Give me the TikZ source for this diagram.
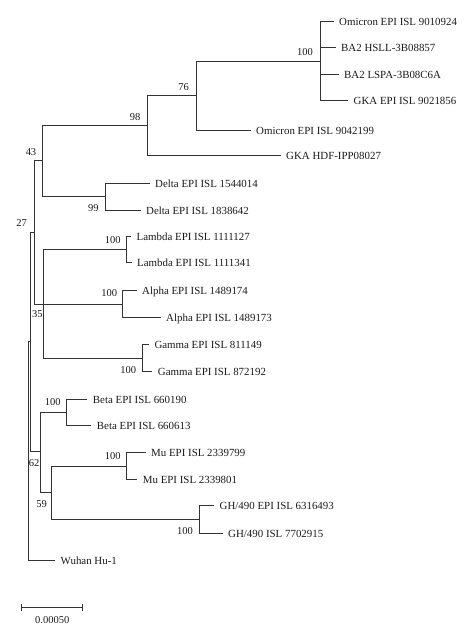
\documentclass[tikz,border=0pt]{standalone}
\usepackage{fontspec}
\setmainfont{Liberation Serif}
\definecolor{ln}{HTML}{333333}
\definecolor{tx}{HTML}{1A1A1A}
\tikzset{
  branch/.style={draw=ln, line width=1.2pt, line cap=rect},
  leaf/.style={anchor=west, inner xsep=6pt, inner ysep=0pt, text height=7.2pt, text depth=0pt, text=tx, font=\fontsize{10.9}{12}\selectfont},
  boot/.style={inner sep=0pt, text=tx, font=\fontsize{10.5}{12}\selectfont},
}
\begin{document}
\begin{tikzpicture}[x=1pt,y=-1pt]
\useasboundingbox (0,0) rectangle (474,641);
% internal nodes
\coordinate (n100a) at (320.5,61.5);
\coordinate (n76) at (196.5,95.5);
\coordinate (n98) at (147.5,125.5);
\coordinate (n99) at (105.5,196.5);
\coordinate (n43) at (42.5,160.5);
\coordinate (n100L) at (126.5,249.5);
\coordinate (n100A) at (122.5,304.5);
\coordinate (n100G) at (142.5,358.5);
\coordinate (n35) at (43.5,304.5);
\coordinate (n27) at (34.5,232.5);
\coordinate (n100B) at (66.5,412.5);
\coordinate (n100M) at (126.5,466.5);
\coordinate (n100GH) at (199.5,519.5);
\coordinate (n59) at (51.5,492.5);
\coordinate (n62) at (40.5,451.5);
\coordinate (nX) at (30.5,341.5);
\coordinate (root) at (28.5,450.5);
% leaves
\node[leaf] (l1) at (333,21.5) {Omicron EPI ISL 9010924};
\node[leaf] (l2) at (335,47.5) {BA2 HSLL-3B08857};
\node[leaf] (l3) at (338,74.5) {BA2 LSPA-3B08C6A};
\node[leaf] (l4) at (347.5,100.5) {GKA EPI ISL 9021856};
\node[leaf] (l5) at (250,130.5) {Omicron EPI ISL 9042199};
\node[leaf] (l6) at (280,155.5) {GKA HDF-IPP08027};
\node[leaf] (l7) at (149,183.5) {Delta EPI ISL 1544014};
\node[leaf] (l8) at (140,210.5) {Delta EPI ISL 1838642};
\node[leaf] (l9) at (130.5,236.5) {Lambda EPI ISL 1111127};
\node[leaf] (l10) at (131,262.5) {Lambda EPI ISL 1111341};
\node[leaf] (l11) at (136,290.5) {Alpha EPI ISL 1489174};
\node[leaf] (l12) at (160,317.5) {Alpha EPI ISL 1489173};
\node[leaf] (l13) at (148.3,344.5) {Gamma EPI ISL 811149};
\node[leaf] (l14) at (151.7,371.5) {Gamma EPI ISL 872192};
\node[leaf] (l15) at (86.7,399.5) {Beta EPI ISL 660190};
\node[leaf] (l16) at (90.7,425.5) {Beta EPI ISL 660613};
\node[leaf] (l17) at (145,452.5) {Mu EPI ISL 2339799};
\node[leaf] (l18) at (136.7,479.5) {Mu EPI ISL 2339801};
\node[leaf] (l19) at (213.5,505.5) {GH/490 EPI ISL 6316493};
\node[leaf] (l20) at (222,533.5) {GH/490 ISL 7702915};
\node[leaf] (l21) at (54.5,560.5) {Wuhan Hu-1};
% branches
\foreach \c in {l1,l2,l3,l4} \draw[branch] (n100a) |- (\c.west);
\draw[branch] (n76) |- (n100a);
\draw[branch] (n76) |- (l5.west);
\draw[branch] (n98) |- (n76);
\draw[branch] (n98) |- (l6.west);
\draw[branch] (n99) |- (l7.west);
\draw[branch] (n99) |- (l8.west);
\draw[branch] (n43) |- (n98);
\draw[branch] (n43) |- (n99);
\draw[branch] (n100L) |- (l9.west);
\draw[branch] (n100L) |- (l10.west);
\draw[branch] (n100A) |- (l11.west);
\draw[branch] (n100A) |- (l12.west);
\draw[branch] (n100G) |- (l13.west);
\draw[branch] (n100G) |- (l14.west);
\draw[branch] (n35) |- (n100L);
\draw[branch] (n35) -- (n100A);
\draw[branch] (n35) |- (n100G);
\draw[branch] (n27) |- (n43);
\draw[branch] (n27) |- (n35);
\draw[branch] (n100B) |- (l15.west);
\draw[branch] (n100B) |- (l16.west);
\draw[branch] (n100M) |- (l17.west);
\draw[branch] (n100M) |- (l18.west);
\draw[branch] (n100GH) |- (l19.west);
\draw[branch] (n100GH) |- (l20.west);
\draw[branch] (n59) |- (n100M);
\draw[branch] (n59) |- (n100GH);
\draw[branch] (n62) |- (n100B);
\draw[branch] (n62) |- (n59);
\draw[branch] (nX) |- (n27);
\draw[branch] (nX) |- (n62);
\draw[branch] (root) |- (nX);
\draw[branch] (root) |- (l21.west);
% bootstrap values
\node[boot] (b1) at (305,52.3) {100};
\node[boot] (b2) at (183.7,87.3) {76};
\node[boot] (b3) at (135,117.3) {98};
\node[boot] (b4) at (31,151.7) {43};
\node[boot] (b5) at (93.3,208.3) {99};
\node[boot] (b6) at (21.7,222.7) {27};
\node[boot] (b7) at (112.7,240) {100};
\node[boot] (b8) at (109.3,293.3) {100};
\node[boot] (b9) at (37.3,314) {35};
\node[boot] (b10) at (128.3,370) {100};
\node[boot] (b11) at (52.7,402.3) {100};
\node[boot] (b12) at (112.7,456) {100};
\node[boot] (b13) at (34,462.7) {62};
\node[boot] (b14) at (41.7,504) {59};
\node[boot] (b15) at (185,530.7) {100};
% scale bar
\coordinate (sbL) at (21.5,607.5);
\coordinate (sbR) at (82.5,607.5);
\draw[branch, line cap=butt] (sbL) -- (sbR);
\draw[branch, line cap=butt] ([yshift=-3.5pt]sbL) -- ([yshift=3.5pt]sbL);
\draw[branch, line cap=butt] ([yshift=-3.5pt]sbR) -- ([yshift=3.5pt]sbR);
\node[boot] (sbt) at (52.3,620.3) {0.00050};
\end{tikzpicture}
\end{document}
